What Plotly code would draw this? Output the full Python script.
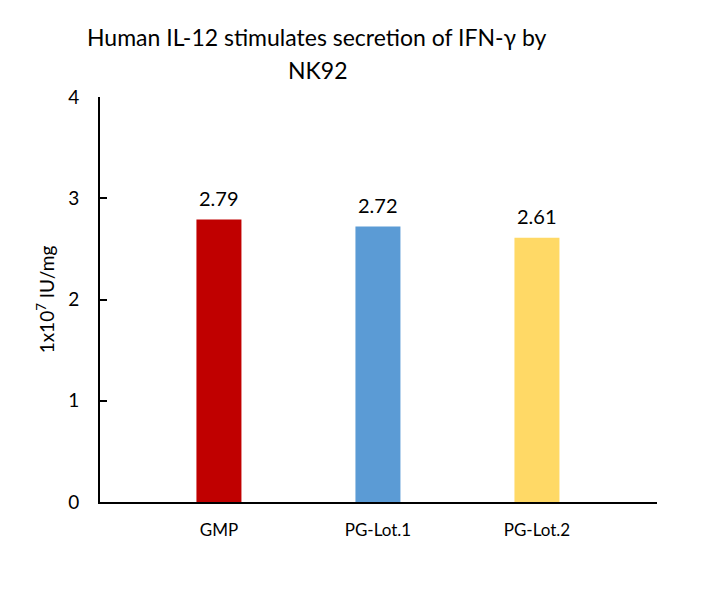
import plotly.graph_objects as go

categories = ["GMP", "PG-Lot.1", "PG-Lot.2"]
values = [2.79, 2.72, 2.61]
colors = ["#C00000", "#5B9BD5", "#FFD966"]
labels = ["2.79", "2.72", "2.61"]
title_lines = ["Human IL-12 stimulates secretion of IFN-γ by", "NK92"]

FONT = "Lato"

fig = go.Figure()
fig.add_trace(go.Bar(
    x=categories, y=values, marker=dict(color=colors, line=dict(width=0)),
    width=0.283, showlegend=False, hoverinfo="skip",
))

for c, v, t in zip(categories, values, labels):
    fig.add_annotation(x=c, y=v, text=t, showarrow=False, yanchor="bottom",
                       yshift=8, font=dict(family=FONT, size=20, color="#000000"))

# title as two centered lines
for i, line in enumerate(title_lines):
    fig.add_annotation(xref="paper", yref="paper", x=(317 - 100) / 557,
                       y=1 + (97 - (37 + 33 * i)) / 405, text=line, showarrow=False,
                       xanchor="center", yanchor="middle",
                       font=dict(family=FONT, size=23, color="#000000"))

fig.update_layout(
    width=712, height=591,
    paper_bgcolor="white", plot_bgcolor="white",
    margin=dict(l=100, r=55, t=97, b=89),
    font=dict(family=FONT, color="#000000"),
)

fig.update_xaxes(
    range=[-0.748, 2.755], showline=True, linecolor="#000000", linewidth=2,
    ticks="", showgrid=False, zeroline=False,
    tickfont=dict(family=FONT, size=17, color="#000000"), ticklabelstandoff=12,
)
fig.update_yaxes(
    range=[0, 4], dtick=1, showline=True, linecolor="#000000", linewidth=2,
    ticks="inside", ticklen=7, tickwidth=2, tickcolor="#000000",
    showgrid=False, zeroline=False,
    tickfont=dict(family=FONT, size=19, color="#000000"), ticklabelstandoff=15,
    title=dict(text="1x10<sup>7</sup> IU/mg", standoff=9,
               font=dict(family=FONT, size=19, color="#000000")),
)

fig.write_html("out.html")
